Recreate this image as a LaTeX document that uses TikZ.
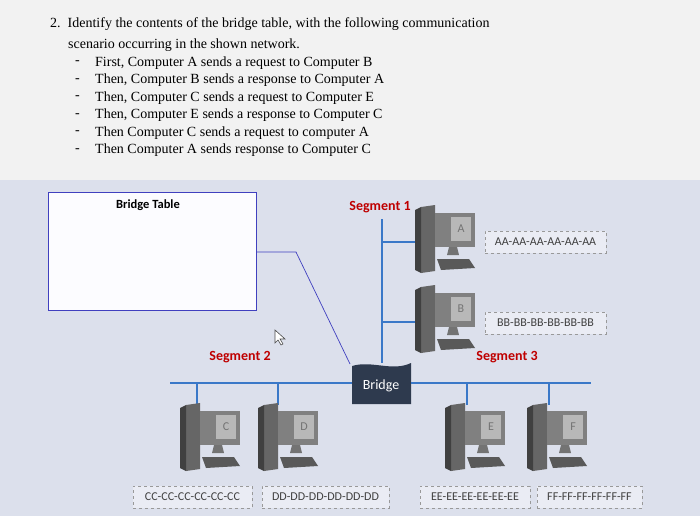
\documentclass[tikz,border=0pt]{standalone}
\usepackage{fontspec}
\setmainfont{Liberation Serif}
\newfontfamily\carl{Carlito}
\definecolor{bg}{HTML}{DCE0EC}
\definecolor{wirec}{HTML}{3A78C8}
\definecolor{brc}{HTML}{2E3A4E}
\begin{document}
\begin{tikzpicture}[x=1pt,y=-1pt,
  q/.style={anchor=west,font=\fontsize{14}{15}\selectfont,inner sep=0},
  seg/.style={font=\carl\bfseries\fontsize{14}{15}\selectfont,text=red!75!black,inner sep=0},
  wire/.style={draw=wirec,line width=2pt},
  mac/.style={draw=gray!80,dashed,fill=bg!60!white,font=\carl\fontsize{12}{13}\selectfont,text=black!75,inner sep=2pt,minimum height=22pt}]
\useasboundingbox (0,0) rectangle (700,516);
\fill[white!90!gray] (0,0) rectangle (700,516);
\fill[bg] (0,180) rectangle (700,516);
\node[q] (t1) at (50,24) {2.\ \ Identify the contents of the bridge table, with the following communication};
\node[q] (t2) at (68,45) {scenario occurring in the shown network.};
\foreach \i/\s in {0/{First, Computer A sends a request to Computer B},1/{Then, Computer B sends a response to Computer A},2/{Then, Computer C sends a request to Computer E},3/{Then, Computer E sends a response to Computer C},4/{Then Computer C sends a request to computer A},5/{Then Computer A sends response to Computer C}}{
  \node[q] at (75,63+17.5*\i) {-};
  \node[q] at (95,63+17.5*\i) {\s};
}
% bridge table
\node[draw=blue!50!gray,fill=white!80!blue!5,line width=0.8pt,minimum width=208pt,minimum height=118pt,anchor=north west] (bt) at (48,192) {};
\node[font=\carl\bfseries\fontsize{12.5}{13}\selectfont,anchor=north west,inner sep=0] (btl) at (116,200) {Bridge Table};
% bridge
\fill[brc] (352,404) -- (352,366) .. controls (372,360) and (392,372) .. (411,363) -- (411,404) -- cycle;
\node[font=\carl\fontsize{14}{15}\selectfont,text=white] (br) at (381,386) {Bridge};
\coordinate (bn) at (350,364);
\draw[blue!50!gray,line width=0.7pt] (bt.east |- 0,252) -- (296,252) -- (bn);
% wires
\draw[wire] (382,219) -- (382,363);
\draw[wire] (170,383) -- (352,383);
\draw[wire] (411,383) -- (591,383);
\draw[wire] (382,242) -- (418,242);
\draw[wire] (382,322) -- (418,322);
\foreach \x in {197,278,467,549} \draw[wire] (\x,383) -- (\x,405);
\node[seg] (s1) at (380,207) {Segment 1};
\node[seg] (s2) at (240,357) {Segment 2};
\node[seg] (s3) at (507,357) {Segment 3};
% computers
\foreach \n/\x/\y in {A/415/205,B/415/285,C/180/403,D/258/403,E/445/403,F/527/403}{
  \begin{scope}[shift={(\x,\y)}]
  \fill[black!60] (6,2) -- (20,0) -- (20,66) -- (6,68) -- cycle;
  \fill[black!75] (0,5) -- (6,2) -- (6,68) -- (0,65) -- cycle;
  \fill[black!50] (20,8) -- (60,8) -- (60,42) -- (20,42) -- cycle;
  \fill[black!28] (36,12) rectangle (56,36);
  \node[font=\carl\fontsize{12}{12}\selectfont,text=black!55] at (46,24) {\n};
  \fill[black!55] (34,42) -- (42,42) -- (44,50) -- (32,50) -- cycle;
  \fill[black!65] (22,54) -- (54,54) -- (60,63) -- (26,65) -- cycle;
  \end{scope}
}
\node[mac,minimum width=121pt] (ma) at (545.5,242) {AA-AA-AA-AA-AA-AA};
\node[mac,minimum width=121pt] (mb) at (545.5,323) {BB-BB-BB-BB-BB-BB};
\node[mac,minimum width=119pt] (mc) at (192.5,497) {CC-CC-CC-CC-CC-CC};
\node[mac,minimum width=127pt] (md) at (325.5,497) {DD-DD-DD-DD-DD-DD};
\node[mac,minimum width=110pt] (me) at (475,497) {EE-EE-EE-EE-EE-EE};
\node[mac,minimum width=105pt] (mf) at (589.5,497) {FF-FF-FF-FF-FF-FF};
% cursor
\draw[black!70,fill=white,line width=0.6pt] (275,330) -- (275,343) -- (278,340) -- (281,345) -- (283,344) -- (280,339) -- (285,339) -- cycle;
\end{tikzpicture}
\end{document}
